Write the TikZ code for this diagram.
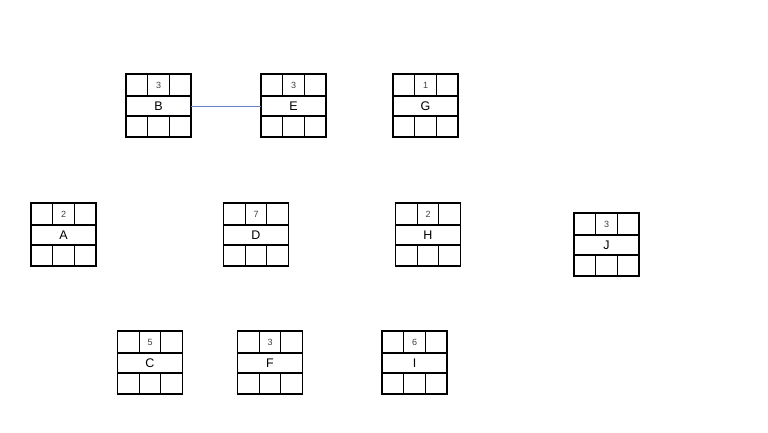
\documentclass[tikz,border=0pt]{standalone}
\usepackage{fontspec}
\setsansfont{Liberation Sans}
\usetikzlibrary{positioning}
\tikzset{font=\sffamily}
\definecolor{linkblue}{RGB}{102,128,200}

\tikzset{
	midrow/.style={draw, line width=1.1pt, minimum width=65pt, minimum height=20pt, inner sep=0pt, outer sep=0pt, font=\sffamily\fontsize{12.5}{14}\selectfont},
	topcell/.style={draw, line width=1.1pt, minimum width=21.67pt, minimum height=22pt, inner sep=0pt, outer sep=0pt, text=black!75, font=\sffamily\fontsize{9}{10}\selectfont},
	botcell/.style={draw, line width=1.1pt, minimum width=21.67pt, minimum height=21pt, inner sep=0pt, outer sep=0pt},
	link/.style={draw=linkblue, line width=0.9pt}
}

% one activity box: name, x, y, duration
\newcommand{\actnode}[4]{
	\node[midrow] (#1) at (#2,#3) {#1};
	\node[topcell, anchor=south west] (#1t1) at (#1.north west) {};
	\node[topcell, anchor=south west] (#1t2) at (#1t1.south east) {#4};
	\node[topcell, anchor=south west] (#1t3) at (#1t2.south east) {};
	\node[botcell, anchor=north west] (#1b1) at (#1.south west) {};
	\node[botcell, anchor=north west] (#1b2) at (#1b1.north east) {};
	\node[botcell, anchor=north west] (#1b3) at (#1b2.north east) {};
}

\begin{document}
\begin{tikzpicture}[x=1pt, y=-1pt]
	\useasboundingbox (0,0) rectangle (768,433);

	\actnode{B}{158.5}{106}{3}
	\actnode{E}{293.5}{106}{3}
	\actnode{G}{425.5}{106}{1}

	\actnode{A}{63.5}{235}{2}
	\actnode{D}{256}{235}{7}
	\actnode{H}{428}{235}{2}
	\actnode{J}{606.5}{245}{3}

	\actnode{C}{150}{363}{5}
	\actnode{F}{270}{363}{3}
	\actnode{I}{414.5}{363}{6}

	\draw[link] (B) -- (E);
\end{tikzpicture}
\end{document}
